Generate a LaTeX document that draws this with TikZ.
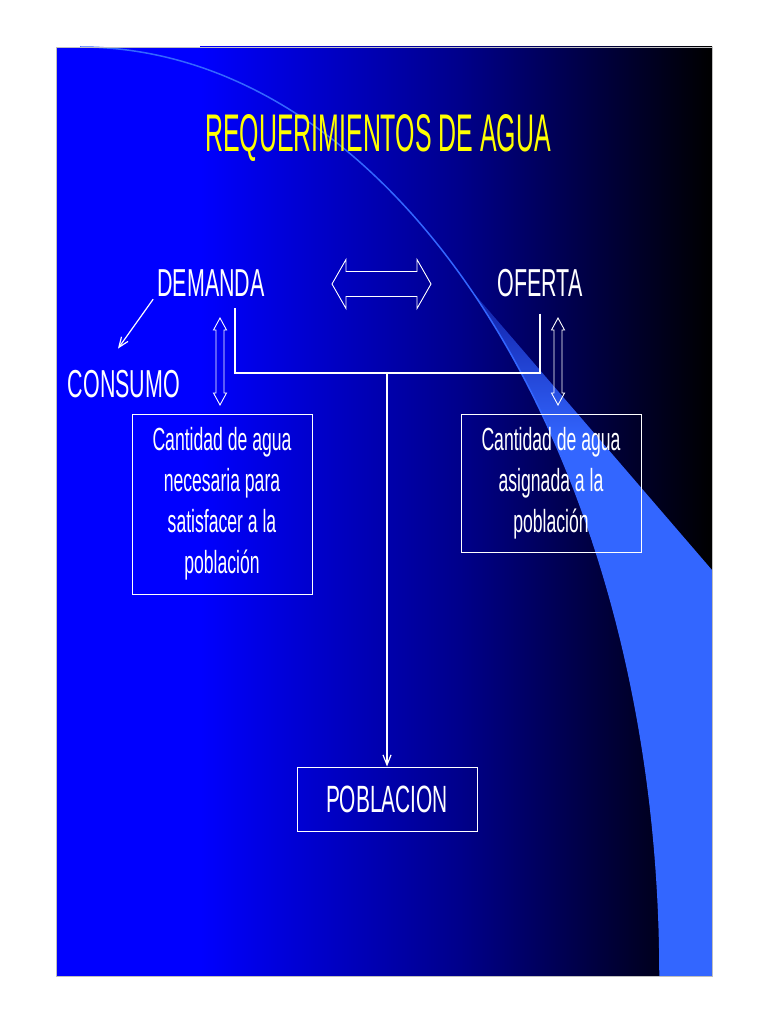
\documentclass[tikz,border=0pt]{standalone}
\usepackage{fontspec}
\setmainfont{Liberation Sans}
\newfontfamily\slidefont[FakeStretch=0.55]{Liberation Sans}
\newfontfamily\titlefont[FakeStretch=0.47]{Liberation Sans}
\usetikzlibrary{arrows.meta}
\definecolor{swoosh}{HTML}{3366FF}
\definecolor{deepnavy}{HTML}{00007F}
\definecolor{titleyellow}{HTML}{FFFF00}
\pgfdeclareverticalshading{swooshfade}{100bp}{color(0bp)=(swoosh); color(64bp)=(swoosh); color(75bp)=(swoosh!30!deepnavy); color(100bp)=(swoosh!30!deepnavy)}

\begin{document}
\begin{tikzpicture}[x=1pt, y=-1pt]
  \tikzset{
    titletext/.style={font=\titlefont\fontsize{53}{60}\selectfont, text=titleyellow, inner sep=0pt, anchor=base},
    keyword/.style={font=\slidefont\fontsize{39}{45}\selectfont, text=white, inner sep=0pt, anchor=base},
    infobox/.style={draw=white, line width=1pt, text=white, align=center, minimum width=180pt, inner sep=0pt, font=\slidefont\fontsize{32}{41}\selectfont},
    link/.style={draw=white, line width=1.2pt},
    hollow/.style={draw=white, line width=0.9pt, line join=miter},
    pointer/.style={-{Straight Barb[length=10pt,width=8pt]}}
  }
  \fill[white] (0,0) rectangle (768,1024);
  \useasboundingbox (0,0) rectangle (768,1024);
  \begin{scope}
    \clip (56,47) rectangle (712,976);
    \fill[blue] (56,47) rectangle (200,976);
    \shade[left color=blue, right color=black, middle color=blue!55!black] (200,47) rectangle (712,976);
    \shade[shading=swooshfade] (712,570) -- (471,290) arc[start angle=-47.6, end angle=0, x radius=580, y radius=929] -- (712,976) -- cycle;
    \draw[swoosh, line width=1.5pt] (80,47) arc[start angle=-90, end angle=0, x radius=580, y radius=929];
  \end{scope}
  \draw[gray!50, line width=0.8pt] (56,47) rectangle (712,976);

  \node[titletext] (title) at (378,152) {REQUERIMIENTOS DE AGUA};
  \node[keyword] (dem) at (211,296) {DEMANDA};
  \node[keyword] (ofe) at (540,296) {OFERTA};
  \node[keyword] (con) at (124,397) {CONSUMO};
  \node[infobox, minimum height=180pt] (need) at (222,504) {Cantidad de agua\\necesaria para\\satisfacer a la\\población};
  \node[infobox, minimum height=138pt] (given) at (551,483) {Cantidad de agua\\asignada a la\\población};
  \node[infobox, minimum height=64pt, font=\slidefont\fontsize{38}{44}\selectfont] (pob) at (387,799) {POBLACION};

  \coordinate (swap) at (332,284);
  \draw[hollow] (swap) -- ++(14,-24.5) -- ++(0,12) -- ++(71,0) -- ++(0,-12) -- ++(14,24.5)
    -- ++(-14,24.5) -- ++(0,-12) -- ++(-71,0) -- ++(0,12) -- cycle;
  \foreach \x in {220,558}
    \draw[hollow] (\x,318) -- ++(6.5,12) -- ++(-2.5,0) -- ++(0,63) -- ++(2.5,0) -- ++(-6.5,12)
      -- ++(-6.5,-12) -- ++(2.5,0) -- ++(0,-63) -- ++(-2.5,0) -- cycle;

  \coordinate (join) at (387,373);
  \draw[link] ([shift={(24,12)}]dem.south) |- (join);
  \draw[link] ([shift={(0,17)}]ofe.south) |- (join);
  \draw[link, pointer] (join) -- (pob.north);
  \draw[link, pointer] ([shift={(-4,3)}]dem.south west) -- ([shift={(-6,-21)}]con.north);
\end{tikzpicture}
\end{document}
